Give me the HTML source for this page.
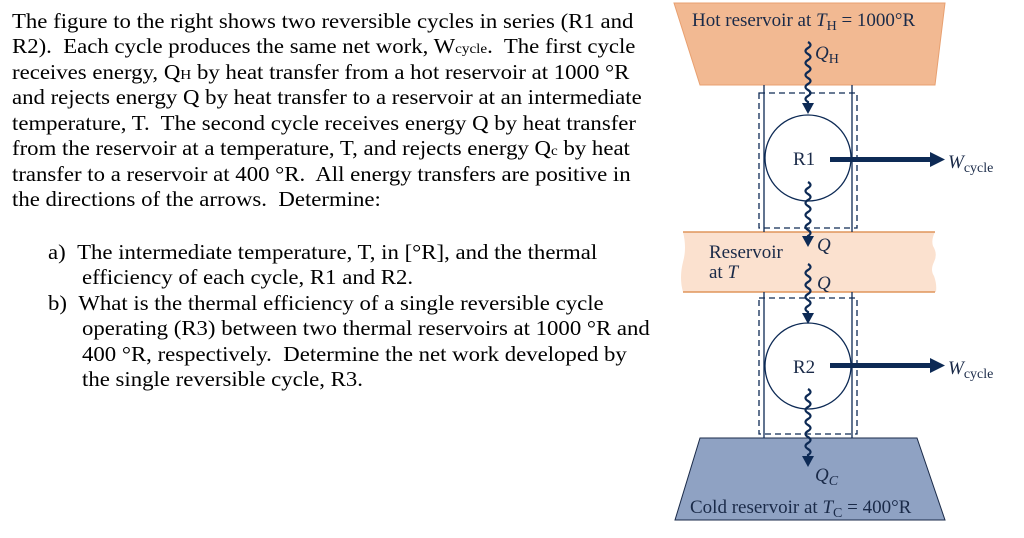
<!DOCTYPE html>
<html><head><style>
html,body{margin:0;padding:0;background:#fff;}
body{width:1024px;height:538px;position:relative;overflow:hidden;font-family:"Liberation Serif",serif;color:#000;}
.l{position:absolute;left:12px;font-size:21px;white-space:nowrap;line-height:20px;transform:scaleX(1.085);transform-origin:0 0;}
.s{font-size:14px;}
</style></head><body>
<div class="l" style="top:11px">The figure to the right shows two reversible cycles in series (R1 and</div>
<div class="l" style="top:36px">R2).&nbsp; Each cycle produces the same net work, W<span class="s">cycle</span>.&nbsp; The first cycle</div>
<div class="l" style="top:62px">receives energy, Q<span class="s">H</span> by heat transfer from a hot reservoir at 1000 °R</div>
<div class="l" style="top:87px">and rejects energy Q by heat transfer to a reservoir at an intermediate</div>
<div class="l" style="top:113px">temperature, T.&nbsp; The second cycle receives energy Q by heat transfer</div>
<div class="l" style="top:138px">from the reservoir at a temperature, T, and rejects energy Q<span class="s">c</span> by heat</div>
<div class="l" style="top:164px">transfer to a reservoir at 400 °R.&nbsp; All energy transfers are positive in</div>
<div class="l" style="top:189px">the directions of the arrows.&nbsp; Determine:</div>
<div class="l" style="top:242px;left:48px">a)&nbsp;&nbsp;The intermediate temperature, T, in [°R], and the thermal</div>
<div class="l" style="top:267px;left:82px">efficiency of each cycle, R1 and R2.</div>
<div class="l" style="top:293px;left:48px">b)&nbsp;&nbsp;What is the thermal efficiency of a single reversible cycle</div>
<div class="l" style="top:318px;left:82px">operating (R3) between two thermal reservoirs at 1000 °R and</div>
<div class="l" style="top:344px;left:82px">400 °R, respectively.&nbsp; Determine the net work developed by</div>
<div class="l" style="top:369px;left:82px">the single reversible cycle, R3.</div>

<svg width="1024" height="538" style="position:absolute;left:0;top:0" font-family="Liberation Serif,serif">
<polygon points="674,3 945,3 935,85 700,85" fill="#f2b992" stroke="#e8a070" stroke-width="1"/>
<text x="692" y="26" font-size="19" fill="#1a2a48">Hot reservoir at <tspan font-style="italic">T</tspan><tspan font-size="14" dy="4">H</tspan><tspan dy="-4"> = 1000°R</tspan></text>
<text x="815" y="59" font-size="19" font-style="italic" fill="#1a2a48">Q<tspan font-size="14" font-style="normal" dy="4">H</tspan></text>
<path d="M683,232 L935,232 q-4,8 -2,14 q5,8 1,16 q-4,8 0,14 q3,8 2,16 L683,292 q-4,-14 0,-30 q4,-14 0,-30z" fill="#fbe1cf"/>
<line x1="683" y1="232" x2="935" y2="232" stroke="#e0955c" stroke-width="1.5"/>
<line x1="683" y1="292" x2="935" y2="292" stroke="#e0955c" stroke-width="1.5"/>
<text x="709" y="258" font-size="19" fill="#1a2a48">Reservoir</text>
<text x="709" y="278" font-size="19" fill="#1a2a48">at <tspan font-style="italic">T</tspan></text>
<text x="817" y="251" font-size="19" font-style="italic" fill="#1a2a48">Q</text>
<text x="817" y="289" font-size="19" font-style="italic" fill="#1a2a48">Q</text>
<polygon points="700,438 917,438 945,520 675,520" fill="#8fa2c3" stroke="#1a2a48" stroke-width="1"/>
<text x="690" y="513" font-size="19" fill="#1a2a48">Cold reservoir at <tspan font-style="italic">T</tspan><tspan font-size="14" dy="4">C</tspan><tspan dy="-4"> = 400°R</tspan></text>
<text x="815" y="481" font-size="19" font-style="italic" fill="#1a2a48">Q<tspan font-size="14" dy="4">C</tspan></text>
<g stroke="#0d2a55" fill="none">
<line x1="764" y1="85" x2="764" y2="232" stroke-width="1.3"/>
<line x1="852" y1="85" x2="852" y2="232" stroke-width="1.3"/>
<rect x="759" y="93" width="98" height="135" stroke-dasharray="6,4" stroke-width="1.3"/>
<circle cx="808" cy="158" r="43" stroke-width="1.3"/>
<line x1="764" y1="292" x2="764" y2="438" stroke-width="1.3"/>
<line x1="852" y1="292" x2="852" y2="438" stroke-width="1.3"/>
<rect x="759" y="298" width="98" height="136" stroke-dasharray="6,4" stroke-width="1.3"/>
<circle cx="808" cy="366" r="43" stroke-width="1.3"/>
<g stroke-width="2.2">
<path d="M808,42 q5,3 0,6 q-5,3 0,6 q5,3 0,6 q-5,3 0,6 q5,3 0,6 q-5,3 0,6 q5,3 0,6 q-5,3 0,6 q5,3 0,6 q-5,3 0,6 l0,2"/>
<path d="M808,182 q5,3 0,6 q-5,3 0,6 q5,3 0,6 q-5,3 0,6 q5,3 0,6 q-5,3 0,6 q5,3 0,6 q-5,3 0,6 q5,3 0,6 l0,2"/>
<path d="M808,264 q5,3 0,6 q-5,3 0,6 q5,3 0,6 q-5,3 0,6 q5,3 0,6 q-5,3 0,6 q5,3 0,6 q-5,3 0,6 l0,2"/>
<path d="M808,389 q5,3 0,6 q-5,3 0,6 q5,3 0,6 q-5,3 0,6 q5,3 0,6 q-5,3 0,6 q5,3 0,6 q-5,3 0,6 q5,3 0,6 q-5,3 0,6 q5,3 0,6 l0,2"/>
</g>
</g>
<g fill="#0d2a55">
<polygon points="802,103 814,103 808,114"/>
<polygon points="802,236 814,236 808,247"/>
<polygon points="802,313 814,313 808,324"/>
<polygon points="802,456 814,456 808,467"/>
<rect x="830" y="157" width="102" height="5"/>
<polygon points="930,152 945,159.5 930,167"/>
<rect x="830" y="363" width="102" height="5"/>
<polygon points="930,358 945,365.5 930,373"/>
</g>
<text x="948" y="168" font-size="19" font-style="italic" fill="#1a2a48">W<tspan font-size="14" font-style="normal" dy="4">cycle</tspan></text>
<text x="948" y="374" font-size="19" font-style="italic" fill="#1a2a48">W<tspan font-size="14" font-style="normal" dy="4">cycle</tspan></text>
<text x="793" y="165" font-size="19" fill="#1a2a48">R1</text>
<text x="793" y="373" font-size="19" fill="#1a2a48">R2</text>
</svg>
</body></html>
